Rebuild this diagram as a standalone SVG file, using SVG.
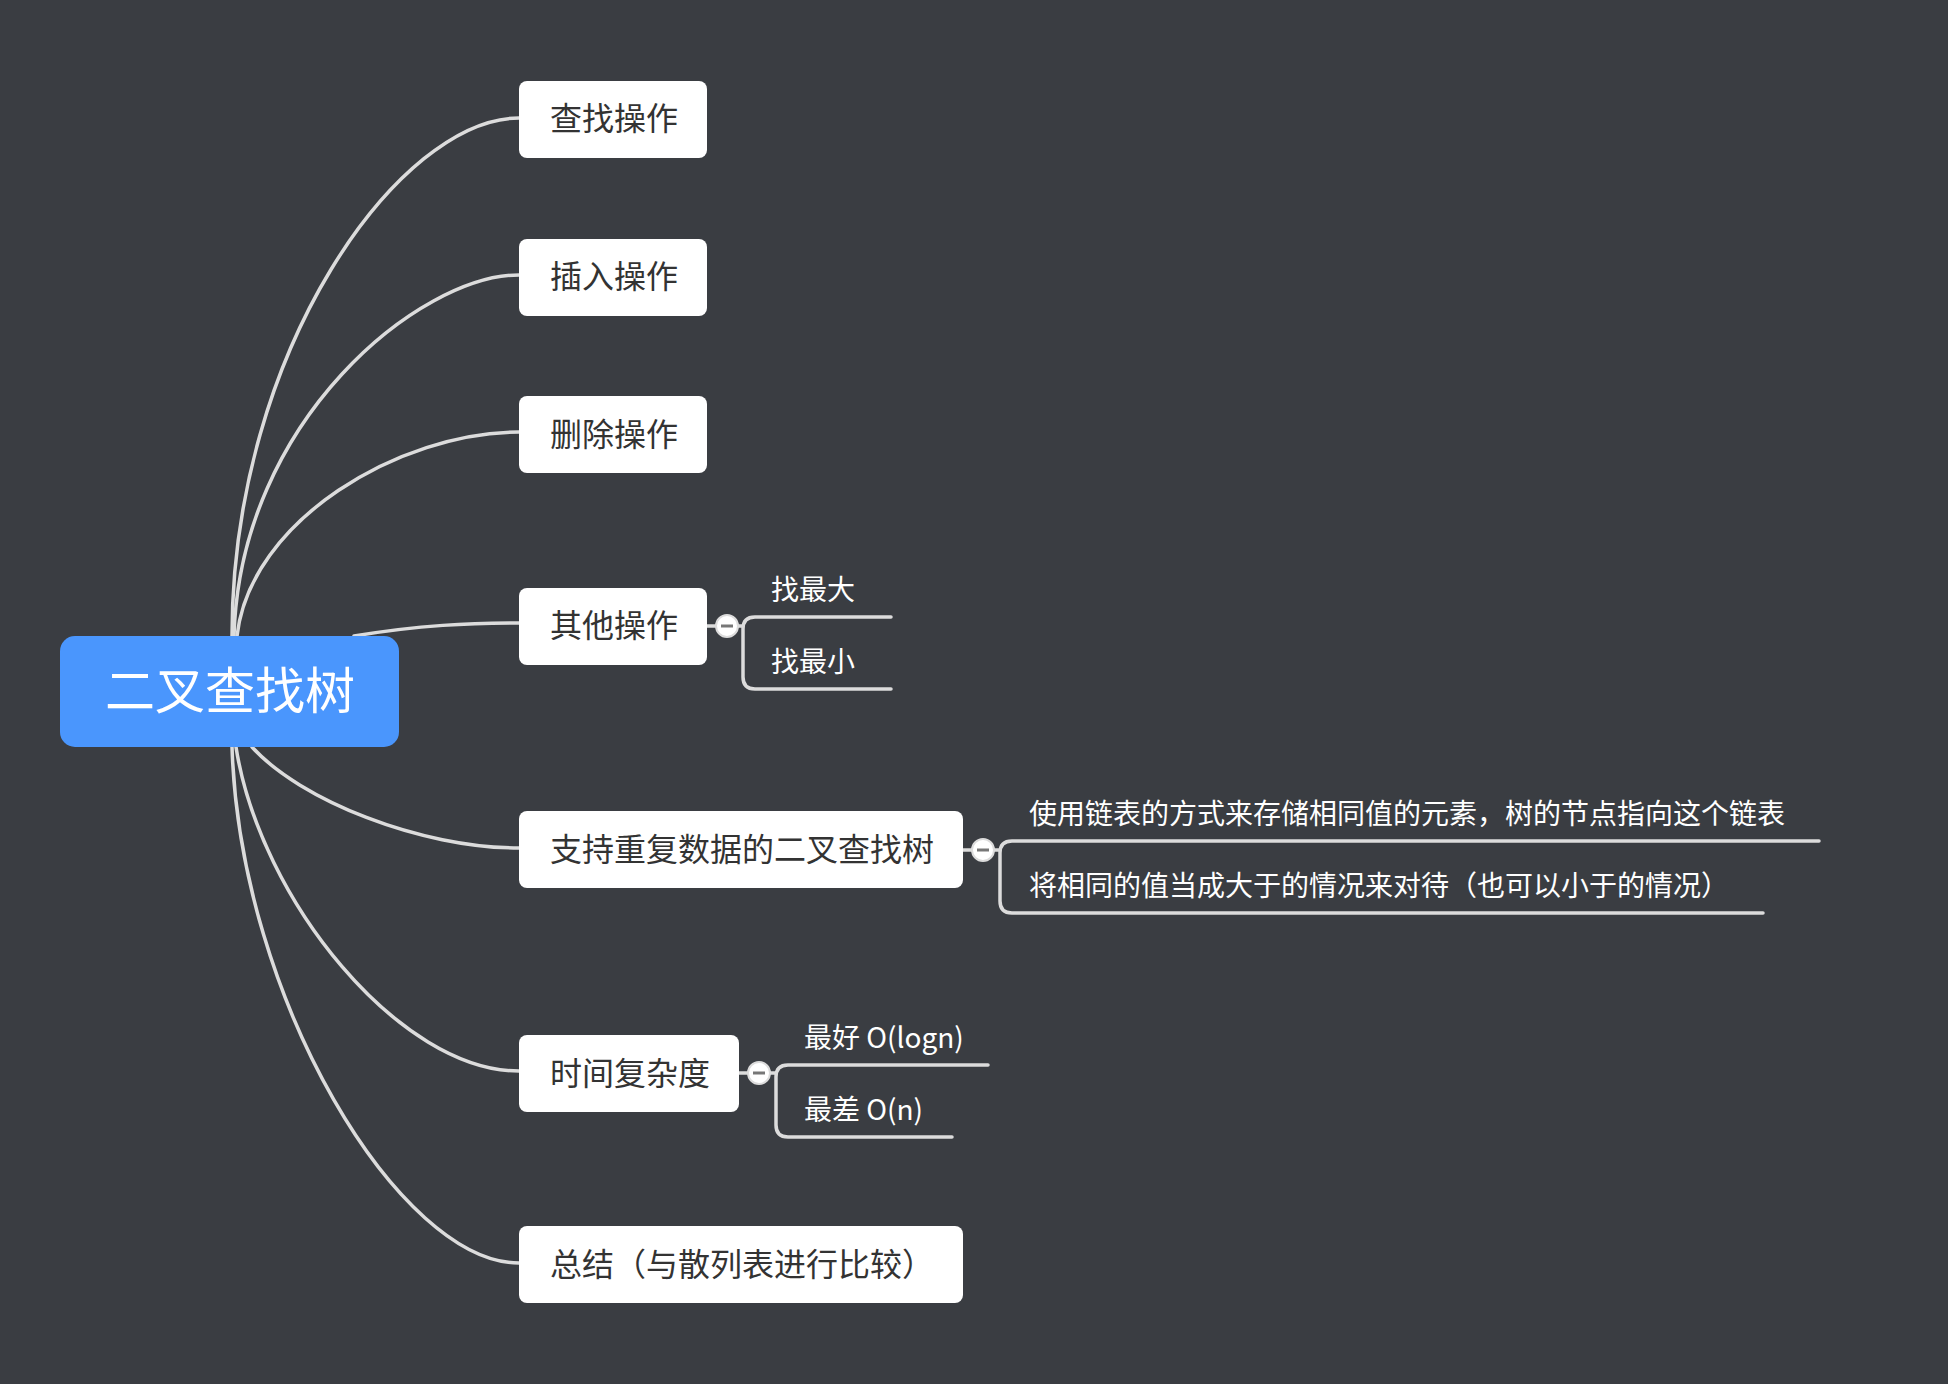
<svg xmlns="http://www.w3.org/2000/svg" width="1948" height="1384" viewBox="0 0 1948 1384">
<style>
.c{fill:none;stroke:#dcdcdc;stroke-width:3.5;stroke-linecap:round}
.b{fill:#fff}
.t{font-family:"Noto Sans CJK SC","Noto Sans",sans-serif;font-size:32px;fill:#333}
.s{font-family:"Noto Sans CJK SC","Noto Sans",sans-serif;font-size:28px;fill:#fff}
.k{fill:#fff;stroke:#dcdcdc;stroke-width:2}
.m{stroke:#777;stroke-width:3}
</style>
<rect width="1948" height="1384" fill="#3a3d42"/>
<g id="connectors">
<path class="c" d="M232 636 C232 350 400 118 519 118"/>
<path class="c" d="M234 636 C240 420 420 275 519 275"/>
<path class="c" d="M237 636 C250 520 400 432 519 432"/>
<path class="c" d="M354 636 C420 625 470 623 519 623"/>
<path class="c" d="M252 747 C300 800 420 848 519 848"/>
<path class="c" d="M236 747 C260 900 400 1071 519 1071"/>
<path class="c" d="M232 747 C240 1000 400 1263 519 1263"/>
<path class="c" d="M707 626 H743 M891 617 H755 Q743 617 743 629 V677 Q743 689 755 689 H891"/>
<path class="c" d="M963 850 H1000 M1819 841 H1012 Q1000 841 1000 853 V901 Q1000 913 1012 913 H1763"/>
<path class="c" d="M739 1073 H776 M988 1065 H788 Q776 1065 776 1077 V1125 Q776 1137 788 1137 H952"/>
</g>
<g id="root"><rect x="60" y="636" width="339" height="111" rx="15" fill="#4a96fd"/>
<text x="230" y="709" text-anchor="middle" font-family="Noto Sans CJK SC,sans-serif" font-size="50" fill="#fff">二叉查找树</text></g>
<g id="n1"><rect class="b" x="519" y="81" width="188" height="77" rx="8"/><text class="t" x="550" y="130">查找操作</text></g>
<g id="n2"><rect class="b" x="519" y="239" width="188" height="77" rx="8"/><text class="t" x="550" y="288">插入操作</text></g>
<g id="n3"><rect class="b" x="519" y="396" width="188" height="77" rx="8"/><text class="t" x="550" y="446">删除操作</text></g>
<g id="n4"><rect class="b" x="519" y="588" width="188" height="77" rx="8"/><text class="t" x="550" y="637">其他操作</text>
<circle class="k" cx="727" cy="626" r="11"/><line class="m" x1="721" y1="626" x2="733" y2="626"/></g>
<g id="n4a"><text class="s" x="771" y="600">找最大</text></g>
<g id="n4b"><text class="s" x="771" y="672">找最小</text></g>
<g id="n5"><rect class="b" x="519" y="811" width="444" height="77" rx="8"/><text class="t" x="550" y="861">支持重复数据的二叉查找树</text>
<circle class="k" cx="983" cy="850" r="11"/><line class="m" x1="977" y1="850" x2="989" y2="850"/></g>
<g id="n5a"><text class="s" x="1029" y="824">使用链表的方式来存储相同值的元素，树的节点指向这个链表</text></g>
<g id="n5b"><text class="s" x="1029" y="896">将相同的值当成大于的情况来对待（也可以小于的情况）</text></g>
<g id="n6"><rect class="b" x="519" y="1035" width="220" height="77" rx="8"/><text class="t" x="550" y="1085">时间复杂度</text>
<circle class="k" cx="759" cy="1073" r="11"/><line class="m" x1="753" y1="1073" x2="765" y2="1073"/></g>
<g id="n6a"><text class="s" x="804" y="1048">最好 O(logn)</text></g>
<g id="n6b"><text class="s" x="804" y="1120">最差 O(n)</text></g>
<g id="n7"><rect class="b" x="519" y="1226" width="444" height="77" rx="8"/><text class="t" x="550" y="1276">总结（与散列表进行比较）</text></g>
</svg>
